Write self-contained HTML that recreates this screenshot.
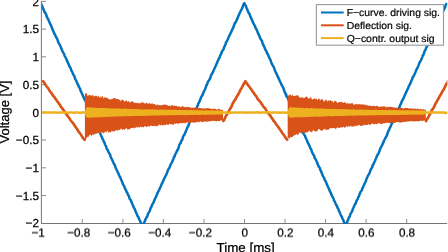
<!DOCTYPE html>
<html lang="en">
<head>
<meta charset="utf-8">
<title>F-curve signals</title>
<style>
html,body{margin:0;padding:0;background:#fff;}
body{width:448px;height:252px;overflow:hidden;}
svg{display:block;font-family:"Liberation Sans",Arial,Helvetica,sans-serif;text-rendering:geometricPrecision;}
.tick text{font-size:11.7px;fill:#000;stroke:#000;stroke-width:0.25px;}
.lbl{font-size:13px;fill:#000;stroke:#000;stroke-width:0.25px;}
.leg text{font-size:10.1px;fill:#000;stroke:#000;stroke-width:0.2px;}
</style>
</head>
<body>
<svg width="448" height="252" viewBox="0 0 448 252">
<rect width="448" height="252" fill="#fff"/>
<g class="axes">
<path d="M41.4 0.9 V223.5 H447.2" fill="none" stroke="#747474" stroke-width="1"/>
<path d="M41.4 1.4 h4.6 M41.4 29.1 h4.6 M41.4 56.8 h4.6 M41.4 84.6 h4.6 M41.4 112.3 h4.6 M41.4 140.0 h4.6 M41.4 167.8 h4.6 M41.4 195.5 h4.6 M82.3 223.5 v-4.5 M122.9 223.5 v-4.5 M163.4 223.5 v-4.5 M204.0 223.5 v-4.5 M244.5 223.5 v-4.5 M285.0 223.5 v-4.5 M325.6 223.5 v-4.5 M366.1 223.5 v-4.5 M406.7 223.5 v-4.5" fill="none" stroke="#808080" stroke-width="0.9"/>
</g>
<clipPath id="pc"><rect x="41.7" y="0" width="405.7" height="224.0"/></clipPath>
<g class="curves" clip-path="url(#pc)">
<path d="M40.7 3.0 L41.4 4.5 L42.1 5.9 L42.7 7.4 L43.2 8.8 L44.0 10.3 L44.5 11.8 L45.4 13.2 L46.2 14.7 L46.6 16.1 L47.3 17.6 L48.1 19.1 L48.7 20.5 L49.4 22.0 L49.9 23.4 L50.7 24.9 L51.5 26.4 L51.8 27.8 L52.6 29.3 L53.0 30.7 L53.8 32.2 L54.4 33.7 L55.3 35.1 L55.8 36.6 L56.7 38.0 L57.4 39.5 L58.0 41.0 L58.3 42.4 L59.2 43.9 L60.0 45.3 L60.7 46.8 L61.1 48.3 L61.9 49.7 L62.5 51.2 L63.2 52.6 L64.2 54.1 L64.5 55.6 L65.3 57.0 L66.1 58.5 L66.6 59.9 L67.3 61.4 L68.0 62.9 L68.7 64.3 L69.1 65.8 L70.0 67.2 L70.9 68.7 L71.1 70.2 L72.1 71.6 L72.7 73.1 L73.2 74.5 L74.3 76.0 L74.8 77.5 L75.1 78.9 L76.0 80.4 L76.7 81.8 L77.3 83.3 L78.1 84.8 L78.6 86.2 L79.4 87.7 L80.2 89.1 L80.5 90.6 L81.3 92.1 L81.9 93.5 L82.6 95.0 L83.1 96.4 L83.9 97.9 L84.6 99.4 L85.4 100.8 L86.1 102.3 L86.4 103.7 L87.1 105.2 L88.0 106.7 L88.3 108.1 L89.2 109.6 L89.9 111.0 L90.8 112.5 L91.4 114.0 L91.9 115.4 L92.5 116.9 L93.2 118.4 L94.2 119.8 L94.5 121.3 L95.2 122.7 L96.0 124.2 L96.6 125.7 L97.2 127.1 L97.7 128.6 L98.6 130.0 L99.2 131.5 L100.1 133.0 L100.7 134.4 L101.2 135.9 L102.0 137.3 L102.5 138.8 L103.4 140.3 L103.9 141.7 L104.7 143.2 L105.0 144.6 L106.0 146.1 L106.3 147.6 L106.9 149.0 L107.9 150.5 L108.4 151.9 L109.3 153.4 L110.3 154.9 L110.4 156.3 L111.1 157.8 L111.9 159.2 L112.6 160.7 L113.2 162.2 L113.9 163.6 L114.7 165.1 L115.3 166.5 L115.7 168.0 L116.5 169.5 L117.2 170.9 L117.7 172.4 L118.6 173.8 L119.1 175.3 L120.0 176.8 L120.6 178.2 L121.2 179.7 L121.8 181.1 L122.5 182.6 L122.9 184.1 L123.7 185.5 L124.6 187.0 L124.9 188.4 L126.0 189.9 L126.3 191.4 L127.3 192.8 L127.7 194.3 L128.7 195.7 L129.2 197.2 L129.6 198.7 L130.7 200.1 L131.4 201.6 L131.8 203.0 L132.5 204.5 L133.2 206.0 L133.7 207.4 L134.7 208.9 L135.1 210.3 L135.8 211.8 L136.4 213.3 L137.1 214.7 L137.6 216.2 L138.7 217.6 L139.1 219.1 L140.0 220.6 L140.5 222.0 L141.1 223.5 L141.8 224.9 L142.5 226.4 L143.1 224.9 L143.8 223.5 L144.4 222.0 L145.1 220.6 L145.6 219.1 L146.4 217.6 L147.4 216.2 L147.7 214.7 L148.3 213.3 L149.2 211.8 L150.0 210.3 L150.3 208.9 L151.1 207.4 L151.7 206.0 L152.2 204.5 L153.3 203.0 L153.8 201.6 L154.5 200.1 L155.0 198.7 L155.9 197.2 L156.4 195.7 L157.1 194.3 L157.6 192.8 L158.3 191.4 L159.3 189.9 L159.7 188.4 L160.5 187.0 L161.1 185.5 L161.7 184.1 L162.4 182.6 L163.2 181.1 L163.7 179.7 L164.4 178.2 L165.1 176.8 L166.0 175.3 L166.6 173.8 L167.2 172.4 L167.7 170.9 L168.2 169.5 L169.3 168.0 L169.9 166.5 L170.4 165.1 L171.2 163.6 L171.9 162.2 L172.6 160.7 L173.3 159.2 L173.7 157.8 L174.7 156.3 L174.9 154.9 L175.9 153.4 L176.5 151.9 L177.2 150.5 L178.1 149.0 L178.7 147.6 L178.9 146.1 L179.5 144.6 L180.6 143.2 L180.9 141.7 L181.8 140.3 L182.6 138.8 L182.8 137.3 L183.4 135.9 L184.5 134.4 L185.1 133.0 L185.7 131.5 L186.4 130.0 L186.9 128.6 L187.5 127.1 L188.4 125.7 L188.9 124.2 L189.5 122.7 L190.5 121.3 L191.1 119.8 L191.8 118.4 L192.2 116.9 L193.0 115.4 L193.6 114.0 L194.3 112.5 L195.1 111.0 L195.6 109.6 L196.5 108.1 L197.1 106.7 L198.0 105.2 L198.2 103.7 L199.2 102.3 L199.7 100.8 L200.4 99.4 L200.8 97.9 L201.6 96.4 L202.5 95.0 L203.0 93.5 L203.7 92.1 L204.3 90.6 L205.2 89.1 L205.7 87.7 L206.0 86.2 L206.9 84.8 L207.4 83.3 L207.9 81.8 L209.0 80.4 L209.9 78.9 L210.4 77.5 L210.8 76.0 L211.5 74.5 L212.5 73.1 L213.1 71.6 L213.7 70.2 L214.4 68.7 L215.0 67.2 L215.8 65.8 L216.4 64.3 L217.1 62.9 L217.5 61.4 L218.4 59.9 L218.9 58.5 L219.9 57.0 L220.1 55.6 L221.0 54.1 L221.7 52.6 L222.1 51.2 L223.3 49.7 L223.9 48.3 L224.3 46.8 L225.1 45.3 L225.7 43.9 L225.9 42.4 L227.0 41.0 L227.7 39.5 L228.3 38.0 L228.8 36.6 L229.6 35.1 L230.3 33.7 L231.2 32.2 L231.7 30.7 L232.3 29.3 L233.2 27.8 L233.6 26.4 L234.3 24.9 L234.7 23.4 L235.9 22.0 L236.5 20.5 L237.1 19.1 L237.8 17.6 L238.3 16.1 L239.0 14.7 L239.6 13.2 L240.3 11.8 L241.0 10.3 L241.9 8.8 L242.4 7.4 L243.0 5.9 L243.5 4.5 L244.3 3.0 L244.9 4.5 L245.9 5.9 L246.4 7.4 L247.0 8.8 L247.6 10.3 L248.1 11.8 L249.0 13.2 L249.8 14.7 L250.2 16.2 L250.9 17.6 L251.6 19.1 L252.3 20.6 L252.7 22.0 L253.6 23.5 L254.2 24.9 L255.1 26.4 L255.5 27.9 L256.4 29.3 L257.2 30.8 L257.6 32.2 L258.2 33.7 L259.0 35.2 L259.6 36.6 L260.1 38.1 L261.0 39.6 L262.0 41.0 L262.3 42.5 L262.9 44.0 L263.5 45.4 L264.3 46.9 L264.8 48.3 L265.4 49.8 L266.5 51.3 L266.8 52.7 L267.8 54.2 L268.5 55.6 L269.0 57.1 L269.7 58.6 L270.6 60.0 L270.9 61.5 L271.5 63.0 L272.1 64.4 L273.0 65.9 L273.9 67.4 L274.4 68.8 L274.8 70.3 L275.5 71.7 L276.2 73.2 L277.0 74.7 L277.6 76.1 L278.3 77.6 L279.0 79.1 L279.6 80.5 L280.3 82.0 L281.0 83.4 L281.6 84.9 L282.4 86.4 L283.3 87.8 L283.7 89.3 L284.3 90.8 L284.7 92.2 L285.7 93.7 L286.0 95.1 L286.7 96.6 L287.8 98.1 L288.4 99.5 L288.9 101.0 L289.3 102.5 L290.2 103.9 L290.8 105.4 L291.7 106.8 L292.6 108.3 L293.0 109.8 L293.5 111.2 L294.1 112.7 L294.9 114.2 L295.6 115.6 L296.1 117.1 L297.0 118.5 L297.4 120.0 L298.5 121.5 L299.1 122.9 L299.8 124.4 L300.2 125.9 L301.0 127.3 L301.6 128.8 L302.2 130.2 L302.9 131.7 L303.4 133.2 L304.0 134.6 L305.1 136.1 L305.6 137.6 L306.3 139.0 L307.1 140.5 L307.3 141.9 L308.2 143.4 L309.0 144.9 L309.7 146.3 L310.2 147.8 L311.1 149.3 L311.6 150.7 L312.1 152.2 L312.8 153.6 L313.7 155.1 L314.4 156.6 L314.6 158.0 L315.8 159.5 L316.4 161.0 L317.2 162.4 L317.5 163.9 L318.2 165.3 L318.8 166.8 L320.0 168.3 L320.2 169.7 L321.2 171.2 L321.5 172.7 L322.3 174.1 L322.7 175.6 L323.5 177.0 L324.4 178.5 L324.7 180.0 L325.8 181.4 L326.3 182.9 L326.8 184.3 L327.5 185.8 L328.2 187.3 L328.9 188.7 L329.5 190.2 L330.1 191.7 L330.9 193.1 L331.4 194.6 L332.1 196.1 L332.9 197.5 L333.7 199.0 L334.0 200.4 L334.9 201.9 L335.5 203.4 L336.1 204.8 L337.1 206.3 L337.5 207.8 L338.5 209.2 L338.8 210.7 L339.7 212.1 L340.2 213.6 L340.8 215.1 L341.7 216.5 L342.2 218.0 L343.0 219.5 L343.6 220.9 L344.1 222.4 L344.9 223.8 L345.6 225.3 L346.3 223.8 L347.1 222.4 L347.5 220.9 L348.3 219.5 L348.7 218.0 L349.7 216.5 L350.1 215.1 L350.6 213.6 L351.6 212.1 L352.4 210.7 L352.7 209.2 L353.4 207.8 L354.1 206.3 L354.7 204.8 L355.7 203.4 L356.1 201.9 L356.8 200.4 L357.7 199.0 L358.1 197.5 L359.0 196.1 L359.4 194.6 L360.1 193.1 L360.6 191.7 L361.9 190.2 L362.2 188.7 L363.0 187.3 L363.6 185.8 L364.3 184.4 L364.9 182.9 L365.9 181.4 L366.1 180.0 L366.7 178.5 L367.4 177.0 L368.0 175.6 L369.0 174.1 L369.7 172.7 L370.1 171.2 L370.7 169.7 L371.5 168.3 L372.5 166.8 L372.5 165.3 L373.7 163.9 L374.1 162.4 L375.1 160.9 L375.4 159.5 L376.2 158.0 L376.7 156.6 L377.4 155.1 L378.5 153.6 L379.1 152.2 L379.5 150.7 L380.1 149.2 L380.6 147.8 L381.5 146.3 L382.2 144.9 L382.9 143.4 L383.6 141.9 L384.1 140.5 L384.9 139.0 L385.6 137.6 L386.5 136.1 L387.2 134.6 L387.6 133.2 L388.1 131.7 L388.9 130.2 L389.5 128.8 L390.1 127.3 L390.9 125.9 L391.4 124.4 L392.3 122.9 L392.9 121.5 L393.6 120.0 L394.2 118.5 L394.8 117.1 L395.4 115.6 L396.2 114.2 L396.8 112.7 L397.6 111.2 L398.2 109.8 L398.7 108.3 L399.6 106.8 L400.0 105.4 L400.8 103.9 L401.5 102.4 L401.9 101.0 L402.9 99.5 L403.6 98.1 L404.2 96.6 L404.8 95.1 L405.5 93.7 L406.1 92.2 L406.9 90.8 L407.5 89.3 L408.3 87.8 L408.7 86.4 L409.6 84.9 L410.3 83.4 L410.9 82.0 L411.5 80.5 L412.3 79.0 L412.6 77.6 L413.7 76.1 L414.3 74.7 L415.0 73.2 L415.6 71.7 L416.1 70.3 L416.9 68.8 L417.7 67.3 L418.3 65.9 L418.9 64.4 L419.3 63.0 L420.3 61.5 L421.1 60.0 L421.7 58.6 L422.3 57.1 L422.7 55.7 L423.7 54.2 L424.2 52.7 L424.5 51.3 L425.6 49.8 L426.0 48.3 L426.7 46.9 L427.5 45.4 L428.4 44.0 L428.8 42.5 L429.6 41.0 L430.5 39.6 L431.2 38.1 L431.6 36.6 L432.2 35.2 L432.7 33.7 L433.5 32.2 L434.3 30.8 L435.0 29.3 L435.6 27.9 L436.4 26.4 L436.8 24.9 L437.6 23.5 L438.4 22.0 L439.0 20.6 L439.7 19.1 L440.3 17.6 L440.9 16.2 L441.6 14.7 L442.1 13.2 L442.6 11.8 L443.7 10.3 L444.2 8.8 L445.0 7.4 L445.3 5.9 L446.2 4.5 L446.9 3.0" fill="none" stroke="#0072BD" stroke-width="2.5" stroke-linejoin="round"/>
<path d="M43.0 81.2 L44.1 82.5 L44.7 83.9 L45.8 85.2 L46.7 86.5 L47.8 87.8 L48.8 89.2 L49.4 90.5 L50.4 91.8 L51.5 93.1 L52.3 94.5 L53.1 95.8 L54.4 97.1 L55.3 98.5 L56.2 99.8 L57.0 101.1 L58.2 102.4 L59.0 103.8 L60.1 105.1 L60.7 106.4 L61.7 107.7 L62.8 109.1 L63.6 110.4 L64.7 111.7 L65.6 113.1 L66.4 114.4 L67.5 115.7 L68.4 117.0 L69.5 118.4 L70.2 119.7 L71.2 121.0 L72.3 122.3 L73.4 123.7 L74.3 125.0 L75.0 126.3 L76.0 127.7 L77.1 129.0 L77.8 130.3 L78.6 131.6 L79.7 133.0 L80.7 134.3 L81.5 135.6 L82.3 136.9 L83.3 138.3 L84.4 139.6" fill="none" stroke="#D95319" stroke-width="2.7" stroke-linejoin="round" stroke-linecap="round"/>
<path d="M223.3 121.0 L224.3 119.6 L224.9 118.2 L225.6 116.7 L226.4 115.3 L227.3 113.9 L228.1 112.5 L229.0 111.0 L229.6 109.6 L230.5 108.2 L231.4 106.8 L232.0 105.4 L232.5 103.9 L233.3 102.5 L234.1 101.1 L235.3 99.7 L235.8 98.3 L236.8 96.8 L237.5 95.4 L238.5 94.0 L239.2 92.6 L239.8 91.2 L240.6 89.7 L241.4 88.3 L242.2 86.9 L242.9 85.5 L243.7 84.0 L244.7 82.6 L245.3 81.2 L246.0 82.5 L247.2 83.9 L248.0 85.2 L249.1 86.5 L250.2 87.8 L251.0 89.2 L252.1 90.5 L252.7 91.8 L254.0 93.1 L254.7 94.5 L255.9 95.8 L256.8 97.1 L257.3 98.5 L258.5 99.8 L259.6 101.1 L260.8 102.4 L261.5 103.8 L262.5 105.1 L263.2 106.4 L264.5 107.7 L265.6 109.1 L266.3 110.4 L267.2 111.7 L267.9 113.1 L269.2 114.4 L270.4 115.7 L271.1 117.0 L272.1 118.4 L273.0 119.7 L273.7 121.0 L275.0 122.3 L275.6 123.7 L276.7 125.0 L277.7 126.3 L278.8 127.7 L279.6 129.0 L280.6 130.3 L281.4 131.6 L282.3 133.0 L283.4 134.3 L284.2 135.6 L285.1 136.9 L286.1 138.3 L287.2 139.6" fill="none" stroke="#D95319" stroke-width="2.7" stroke-linejoin="round" stroke-linecap="round"/>
<path d="M426.1 121.0 L426.7 119.6 L427.8 118.2 L428.5 116.7 L429.2 115.3 L430.2 113.9 L431.0 112.5 L431.4 111.0 L432.3 109.6 L433.4 108.2 L434.2 106.8 L434.6 105.4 L435.4 103.9 L436.2 102.5 L437.0 101.1 L437.7 99.7 L438.7 98.3 L439.3 96.8 L440.1 95.4 L441.2 94.0 L441.7 92.6 L442.6 91.2 L443.5 89.7 L444.3 88.3 L444.9 86.9 L445.7 85.5 L446.4 84.0 L447.6 82.6 L448.1 81.2 L449.1 82.5 L449.9 83.9 L451.0 85.2 L452.0 86.5 L452.9 87.8 L454.1 89.2 L455.0 90.5 L455.6 91.8 L456.7 93.1 L457.4 94.5 L458.6 95.8 L459.5 97.1 L460.9 98.5 L461.4 99.8 L462.1 101.1 L463.2 102.4 L464.3 103.8 L465.1 105.1 L466.1 106.4 L467.1 107.7 L468.1 109.1 L469.0 110.4 L469.9 111.7 L471.1 113.1 L471.8 114.4 L472.8 115.7 L473.6 117.0 L474.7 118.4 L475.8 119.7 L476.4 121.0 L477.6 122.3 L478.7 123.7 L479.5 125.0 L480.5 126.3 L481.3 127.7 L482.6 129.0 L483.5 130.3 L484.3 131.6 L485.0 133.0 L486.0 134.3 L487.3 135.6 L488.3 136.9 L489.1 138.3 L490.0 139.6" fill="none" stroke="#D95319" stroke-width="2.7" stroke-linejoin="round" stroke-linecap="round"/>
<path d="M84.9 93.0 L85.8 93.8 L86.7 93.0 L87.6 96.2 L88.5 95.2 L89.4 95.1 L90.3 95.3 L91.2 95.4 L92.1 95.7 L93.0 94.5 L93.9 96.8 L94.8 96.0 L95.7 95.7 L96.6 95.8 L97.5 97.0 L98.4 95.4 L99.3 98.1 L100.2 96.1 L101.1 98.1 L102.0 96.0 L102.9 96.4 L103.8 98.8 L104.7 96.7 L105.6 97.8 L106.5 97.7 L107.4 97.6 L108.3 98.9 L109.2 99.2 L110.1 99.3 L111.0 99.7 L111.9 98.6 L112.8 98.9 L113.7 98.1 L114.6 98.1 L115.5 98.4 L116.4 99.1 L117.3 99.0 L118.2 99.3 L119.1 99.2 L120.0 100.6 L120.9 101.1 L121.8 99.8 L122.7 99.8 L123.6 100.3 L124.5 101.7 L125.4 101.3 L126.3 100.0 L127.2 101.4 L128.1 102.1 L129.0 100.4 L129.9 102.4 L130.8 102.5 L131.7 100.7 L132.6 101.6 L133.5 102.3 L134.4 103.1 L135.3 102.7 L136.2 102.8 L137.1 103.4 L138.0 102.2 L138.9 103.5 L139.8 103.6 L140.7 102.4 L141.6 102.7 L142.5 102.6 L143.4 102.3 L144.3 103.6 L145.2 103.5 L146.1 102.8 L147.0 103.0 L147.9 104.0 L148.8 103.3 L149.7 103.1 L150.6 104.2 L151.5 103.5 L152.4 103.2 L153.3 104.2 L154.2 103.9 L155.1 104.4 L156.0 104.7 L156.9 105.4 L157.8 104.1 L158.7 105.6 L159.6 104.9 L160.5 105.6 L161.4 104.9 L162.3 105.3 L163.2 104.8 L164.1 104.5 L165.0 104.6 L165.9 105.1 L166.8 104.7 L167.7 105.4 L168.6 105.9 L169.5 105.3 L170.4 106.4 L171.3 105.2 L172.2 105.3 L173.1 105.3 L174.0 106.3 L174.9 105.6 L175.8 106.0 L176.7 105.7 L177.6 106.6 L178.5 106.6 L179.4 106.2 L180.3 107.3 L181.2 106.9 L182.1 106.1 L183.0 106.3 L183.9 107.1 L184.8 107.3 L185.7 106.6 L186.6 107.6 L187.5 106.8 L188.4 107.1 L189.3 107.3 L190.2 107.3 L191.1 107.7 L192.0 108.0 L192.9 107.3 L193.8 108.2 L194.7 107.2 L195.6 108.4 L196.5 107.3 L197.4 107.9 L198.3 108.5 L199.2 107.6 L200.1 107.9 L201.0 108.3 L201.9 108.3 L202.8 108.6 L203.7 108.5 L204.6 108.3 L205.5 108.4 L206.4 108.4 L207.3 108.1 L208.2 108.1 L209.1 108.5 L210.0 108.5 L210.9 108.4 L211.8 109.3 L212.7 108.8 L213.6 108.7 L214.5 108.7 L215.4 108.8 L216.3 109.5 L217.2 109.4 L218.1 109.0 L219.0 108.8 L219.9 109.4 L220.8 109.5 L221.7 109.9 L222.6 109.7 L223.0 109.7 L223.0 120.9 L222.6 120.9 L221.7 120.3 L220.8 120.3 L219.9 121.1 L219.0 121.1 L218.1 121.0 L217.2 120.9 L216.3 121.4 L215.4 120.9 L214.5 120.9 L213.6 120.8 L212.7 120.8 L211.8 121.2 L210.9 120.9 L210.0 121.2 L209.1 121.4 L208.2 121.4 L207.3 121.8 L206.4 121.4 L205.5 122.0 L204.6 121.1 L203.7 122.0 L202.8 122.2 L201.9 122.1 L201.0 121.6 L200.1 121.6 L199.2 122.4 L198.3 121.5 L197.4 122.2 L196.5 122.2 L195.6 122.2 L194.7 122.8 L193.8 122.4 L192.9 122.7 L192.0 122.0 L191.1 122.6 L190.2 123.0 L189.3 123.2 L188.4 123.0 L187.5 122.3 L186.6 122.2 L185.7 123.5 L184.8 123.1 L183.9 122.7 L183.0 123.6 L182.1 122.7 L181.2 123.3 L180.3 122.9 L179.4 123.3 L178.5 124.0 L177.6 123.5 L176.7 123.2 L175.8 124.0 L174.9 123.2 L174.0 124.4 L173.1 124.5 L172.2 124.4 L171.3 124.4 L170.4 124.0 L169.5 123.5 L168.6 125.0 L167.7 124.9 L166.8 123.8 L165.9 125.2 L165.0 125.1 L164.1 124.7 L163.2 125.5 L162.3 125.2 L161.4 124.8 L160.5 125.8 L159.6 124.3 L158.7 125.6 L157.8 125.8 L156.9 125.9 L156.0 126.2 L155.1 126.2 L154.2 125.5 L153.3 126.2 L152.4 126.1 L151.5 125.7 L150.6 125.6 L149.7 126.8 L148.8 126.0 L147.9 126.6 L147.0 126.8 L146.1 127.0 L145.2 126.1 L144.3 126.6 L143.4 127.6 L142.5 127.1 L141.6 127.2 L140.7 126.6 L139.8 127.5 L138.9 127.6 L138.0 126.5 L137.1 128.1 L136.2 126.8 L135.3 128.0 L134.4 128.6 L133.5 127.6 L132.6 128.0 L131.7 128.1 L130.8 128.1 L129.9 129.4 L129.0 129.0 L128.1 129.5 L127.2 129.6 L126.3 127.8 L125.4 129.1 L124.5 129.9 L123.6 129.1 L122.7 130.2 L121.8 129.0 L120.9 128.6 L120.0 130.0 L119.1 130.2 L118.2 129.4 L117.3 131.2 L116.4 130.1 L115.5 130.5 L114.6 131.3 L113.7 131.3 L112.8 131.7 L111.9 130.6 L111.0 132.0 L110.1 132.4 L109.2 131.9 L108.3 132.5 L107.4 130.3 L106.5 132.7 L105.6 131.3 L104.7 132.2 L103.8 133.4 L102.9 132.5 L102.0 133.1 L101.1 131.5 L100.2 133.8 L99.3 134.2 L98.4 132.3 L97.5 133.3 L96.6 133.5 L95.7 134.5 L94.8 133.3 L93.9 135.4 L93.0 134.2 L92.1 134.9 L91.2 136.1 L90.3 134.5 L89.4 135.1 L88.5 137.1 L87.6 136.8 L86.7 137.6 L85.8 140.1 L84.9 141.6Z" fill="#D95319" stroke="none"/>
<path d="M287.7 93.0 L288.6 96.0 L289.5 94.9 L290.4 94.1 L291.3 96.3 L292.2 94.5 L293.1 95.7 L294.0 96.3 L294.9 95.9 L295.8 95.4 L296.7 95.4 L297.6 94.9 L298.5 95.9 L299.4 97.2 L300.3 97.9 L301.2 97.0 L302.1 97.7 L303.0 97.6 L303.9 98.1 L304.8 97.7 L305.7 96.8 L306.6 96.5 L307.5 97.2 L308.4 98.8 L309.3 98.4 L310.2 97.3 L311.1 97.2 L312.0 99.7 L312.9 99.2 L313.8 98.6 L314.7 98.6 L315.6 98.9 L316.5 98.5 L317.4 100.6 L318.3 98.6 L319.2 98.6 L320.1 100.6 L321.0 99.5 L321.9 98.9 L322.8 99.6 L323.7 101.2 L324.6 101.6 L325.5 99.5 L326.4 99.7 L327.3 101.8 L328.2 100.0 L329.1 101.2 L330.0 100.0 L330.9 100.5 L331.8 101.2 L332.7 101.2 L333.6 102.7 L334.5 100.7 L335.4 101.1 L336.3 101.2 L337.2 103.0 L338.1 102.8 L339.0 101.7 L339.9 102.1 L340.8 102.2 L341.7 101.7 L342.6 102.5 L343.5 103.0 L344.4 102.0 L345.3 102.5 L346.2 103.5 L347.1 103.5 L348.0 102.8 L348.9 104.2 L349.8 103.1 L350.7 103.8 L351.6 103.3 L352.5 102.9 L353.4 104.5 L354.3 104.9 L355.2 103.7 L356.1 104.4 L357.0 104.0 L357.9 104.6 L358.8 103.8 L359.7 104.4 L360.6 104.6 L361.5 104.2 L362.4 104.2 L363.3 104.7 L364.2 104.7 L365.1 104.3 L366.0 105.6 L366.9 105.0 L367.8 105.3 L368.7 105.9 L369.6 105.1 L370.5 106.2 L371.4 105.8 L372.3 106.2 L373.2 105.7 L374.1 105.7 L375.0 105.9 L375.9 106.4 L376.8 105.5 L377.7 105.9 L378.6 106.9 L379.5 107.0 L380.4 106.6 L381.3 106.2 L382.2 107.0 L383.1 106.0 L384.0 106.4 L384.9 106.1 L385.8 107.4 L386.7 107.0 L387.6 106.6 L388.5 107.4 L389.4 106.6 L390.3 107.0 L391.2 106.7 L392.1 107.2 L393.0 107.2 L393.9 107.3 L394.8 107.5 L395.7 107.9 L396.6 107.6 L397.5 108.0 L398.4 108.1 L399.3 108.1 L400.2 108.1 L401.1 107.6 L402.0 107.9 L402.9 108.2 L403.8 108.4 L404.7 108.3 L405.6 107.8 L406.5 108.0 L407.4 108.0 L408.3 108.2 L409.2 108.5 L410.1 108.2 L411.0 108.8 L411.9 108.2 L412.8 108.8 L413.7 108.7 L414.6 108.8 L415.5 108.6 L416.4 109.2 L417.3 108.5 L418.2 108.7 L419.1 109.6 L420.0 109.1 L420.9 108.8 L421.8 109.7 L422.7 109.2 L423.6 109.0 L424.5 109.7 L425.4 109.6 L425.8 109.6 L425.8 121.0 L425.4 121.0 L424.5 120.4 L423.6 120.6 L422.7 120.9 L421.8 121.1 L420.9 120.5 L420.0 121.1 L419.1 121.2 L418.2 121.4 L417.3 121.1 L416.4 121.2 L415.5 121.3 L414.6 121.5 L413.7 121.3 L412.8 121.6 L411.9 120.9 L411.0 121.2 L410.1 121.3 L409.2 121.4 L408.3 121.4 L407.4 121.6 L406.5 121.8 L405.6 122.1 L404.7 121.4 L403.8 122.3 L402.9 121.7 L402.0 122.5 L401.1 122.5 L400.2 122.4 L399.3 122.6 L398.4 122.1 L397.5 121.9 L396.6 122.1 L395.7 122.4 L394.8 122.9 L393.9 122.4 L393.0 122.8 L392.1 123.0 L391.2 122.9 L390.3 123.0 L389.4 123.2 L388.5 122.9 L387.6 122.5 L386.7 123.0 L385.8 122.7 L384.9 123.6 L384.0 123.0 L383.1 123.6 L382.2 123.7 L381.3 124.1 L380.4 123.9 L379.5 123.3 L378.6 123.1 L377.7 123.9 L376.8 124.3 L375.9 123.5 L375.0 124.3 L374.1 124.5 L373.2 123.7 L372.3 123.7 L371.4 123.8 L370.5 124.7 L369.6 125.1 L368.7 124.1 L367.8 125.1 L366.9 125.1 L366.0 124.8 L365.1 125.5 L364.2 124.5 L363.3 125.4 L362.4 125.6 L361.5 125.9 L360.6 126.0 L359.7 125.1 L358.8 124.7 L357.9 125.7 L357.0 125.5 L356.1 126.5 L355.2 125.3 L354.3 126.7 L353.4 125.9 L352.5 126.8 L351.6 126.8 L350.7 125.6 L349.8 126.7 L348.9 126.4 L348.0 126.1 L347.1 127.5 L346.2 125.8 L345.3 127.4 L344.4 127.7 L343.5 126.7 L342.6 126.9 L341.7 127.8 L340.8 126.9 L339.9 128.0 L339.0 127.9 L338.1 127.4 L337.2 127.4 L336.3 128.5 L335.4 128.9 L334.5 128.3 L333.6 127.7 L332.7 128.1 L331.8 128.5 L330.9 128.0 L330.0 128.3 L329.1 129.0 L328.2 129.9 L327.3 129.6 L326.4 130.2 L325.5 129.3 L324.6 129.0 L323.7 129.6 L322.8 130.0 L321.9 130.8 L321.0 130.8 L320.1 129.8 L319.2 129.1 L318.3 129.2 L317.4 131.0 L316.5 131.2 L315.6 131.6 L314.7 131.4 L313.8 130.3 L312.9 130.2 L312.0 132.4 L311.1 131.8 L310.2 131.7 L309.3 130.4 L308.4 131.5 L307.5 132.4 L306.6 132.3 L305.7 132.9 L304.8 132.5 L303.9 133.3 L303.0 132.3 L302.1 132.4 L301.2 134.1 L300.3 132.4 L299.4 132.6 L298.5 134.6 L297.6 135.2 L296.7 133.5 L295.8 135.5 L294.9 134.3 L294.0 136.0 L293.1 135.7 L292.2 137.4 L291.3 137.2 L290.4 136.7 L289.5 138.9 L288.6 137.8 L287.7 138.3Z" fill="#D95319" stroke="none"/>
<path d="M490.5 93.0 L491.4 95.1 L492.3 94.9 L493.2 94.9 L494.1 95.4 L495.0 94.1 L495.9 93.9 L496.8 95.7 L497.7 95.0 L498.6 94.6 L499.5 96.0 L500.4 94.6 L501.3 97.7 L502.2 96.9 L503.1 96.9 L504.0 96.9 L504.9 95.6 L505.8 95.6 L506.7 97.9 L507.6 97.9 L508.5 96.3 L509.4 98.0 L510.3 97.6 L511.2 98.2 L512.1 96.8 L513.0 99.1 L513.9 99.2 L514.8 98.5 L515.7 99.2 L516.6 98.6 L517.5 99.2 L518.4 97.8 L519.3 98.2 L520.2 99.8 L521.1 99.2 L522.0 99.3 L522.9 99.6 L523.8 99.4 L524.7 100.2 L525.6 99.6 L526.5 100.6 L527.4 100.4 L528.3 101.0 L529.2 100.4 L530.1 101.2 L531.0 100.3 L531.9 100.6 L532.8 102.0 L533.7 101.9 L534.6 101.8 L535.5 102.5 L536.4 100.7 L537.3 101.7 L538.2 100.9 L539.1 101.5 L540.0 102.5 L540.9 101.7 L541.8 101.3 L542.7 102.9 L543.6 102.1 L544.5 102.0 L545.4 103.5 L546.3 103.5 L547.2 103.2 L548.1 103.0 L549.0 102.7 L549.9 104.0 L550.8 103.8 L551.7 102.7 L552.6 103.5 L553.5 103.0 L554.4 103.3 L555.3 102.9 L556.2 104.0 L557.1 103.5 L558.0 105.0 L558.9 103.5 L559.8 104.1 L560.7 104.2 L561.6 105.1 L562.5 103.8 L563.4 105.5 L564.3 104.2 L565.2 105.1 L566.1 104.6 L567.0 104.6 L567.9 104.6 L568.8 104.4 L569.7 105.7 L570.6 105.4 L571.5 105.6 L572.4 105.8 L573.3 106.3 L574.2 105.7 L575.1 105.3 L576.0 106.0 L576.9 105.5 L577.8 105.3 L578.7 105.4 L579.6 106.5 L580.5 105.9 L581.4 106.8 L582.3 106.0 L583.2 106.6 L584.1 107.2 L585.0 106.7 L585.9 106.9 L586.8 106.1 L587.7 107.1 L588.6 106.5 L589.5 106.9 L590.4 107.3 L591.3 107.4 L592.2 107.1 L593.1 107.5 L594.0 106.9 L594.9 107.5 L595.8 107.8 L596.7 108.0 L597.6 108.2 L598.5 107.9 L599.4 107.5 L600.3 107.2 L601.2 107.3 L602.1 107.5 L603.0 107.7 L603.9 108.5 L604.8 108.2 L605.7 108.5 L606.6 107.7 L607.5 107.8 L608.4 108.7 L609.3 108.2 L610.2 108.7 L611.1 108.1 L612.0 109.0 L612.9 108.9 L613.8 108.4 L614.7 108.3 L615.6 108.3 L616.5 109.0 L617.4 109.0 L618.3 109.2 L619.2 109.3 L620.1 109.4 L621.0 108.6 L621.9 108.9 L622.8 108.8 L623.7 108.8 L624.6 109.5 L625.5 109.0 L626.4 109.6 L627.3 109.0 L628.2 109.9 L628.6 109.9 L628.6 120.4 L628.2 120.4 L627.3 120.9 L626.4 120.8 L625.5 120.3 L624.6 121.1 L623.7 121.2 L622.8 120.6 L621.9 121.2 L621.0 121.3 L620.1 120.7 L619.2 121.0 L618.3 121.1 L617.4 120.9 L616.5 121.4 L615.6 121.8 L614.7 121.3 L613.8 121.3 L612.9 121.5 L612.0 121.1 L611.1 121.1 L610.2 121.6 L609.3 122.1 L608.4 121.6 L607.5 122.3 L606.6 121.9 L605.7 122.2 L604.8 121.8 L603.9 122.1 L603.0 122.4 L602.1 122.2 L601.2 122.0 L600.3 122.6 L599.4 122.2 L598.5 122.7 L597.6 123.0 L596.7 122.8 L595.8 122.8 L594.9 122.9 L594.0 122.1 L593.1 122.8 L592.2 123.4 L591.3 123.4 L590.4 123.2 L589.5 123.6 L588.6 123.7 L587.7 123.1 L586.8 123.8 L585.9 123.1 L585.0 123.1 L584.1 124.1 L583.2 123.3 L582.3 123.1 L581.4 124.3 L580.5 124.2 L579.6 124.4 L578.7 124.4 L577.8 124.0 L576.9 123.3 L576.0 123.6 L575.1 123.6 L574.2 124.1 L573.3 123.8 L572.4 124.5 L571.5 124.3 L570.6 125.1 L569.7 124.9 L568.8 124.5 L567.9 124.1 L567.0 125.7 L566.1 125.5 L565.2 125.2 L564.3 125.2 L563.4 125.3 L562.5 124.7 L561.6 125.7 L560.7 124.8 L559.8 126.2 L558.9 125.3 L558.0 125.2 L557.1 125.2 L556.2 126.8 L555.3 126.2 L554.4 125.7 L553.5 127.0 L552.6 126.9 L551.7 127.1 L550.8 127.1 L549.9 127.4 L549.0 126.1 L548.1 127.0 L547.2 126.4 L546.3 126.7 L545.4 127.9 L544.5 126.4 L543.6 126.5 L542.7 126.7 L541.8 127.4 L540.9 128.6 L540.0 127.9 L539.1 126.9 L538.2 127.1 L537.3 127.7 L536.4 128.9 L535.5 127.8 L534.6 129.4 L533.7 128.6 L532.8 128.5 L531.9 127.7 L531.0 128.2 L530.1 128.6 L529.2 128.2 L528.3 129.7 L527.4 130.1 L526.5 130.1 L525.6 130.4 L524.7 130.0 L523.8 130.9 L522.9 129.9 L522.0 129.3 L521.1 131.4 L520.2 129.9 L519.3 129.7 L518.4 131.8 L517.5 131.7 L516.6 131.2 L515.7 131.7 L514.8 131.3 L513.9 131.3 L513.0 131.0 L512.1 132.8 L511.2 132.0 L510.3 130.7 L509.4 132.7 L508.5 132.4 L507.6 132.0 L506.7 133.9 L505.8 131.8 L504.9 133.2 L504.0 132.1 L503.1 134.1 L502.2 132.6 L501.3 134.3 L500.4 132.7 L499.5 132.8 L498.6 134.5 L497.7 135.2 L496.8 134.3 L495.9 136.8 L495.0 136.2 L494.1 137.7 L493.2 138.2 L492.3 137.0 L491.4 138.8 L490.5 141.2Z" fill="#D95319" stroke="none"/>
<path d="M41.8 112.6 L43.8 112.6 L45.8 112.5 L47.8 112.6 L49.8 112.4 L51.8 112.5 L53.8 112.6 L55.8 112.6 L57.8 112.7 L59.8 112.4 L61.8 112.4 L63.8 112.6 L65.8 112.6 L67.8 112.8 L69.8 112.6 L71.8 112.4 L73.8 112.7 L75.8 112.4 L77.8 112.4 L79.8 112.9 L81.8 112.6 L83.8 112.6 L85.8 112.6 L87.8 112.8 L89.8 112.6 L91.8 112.7 L93.8 112.4 L95.8 112.4 L97.8 112.7 L99.8 112.7 L101.8 112.6 L103.8 112.6 L105.8 112.6 L107.8 112.5 L109.8 112.8 L111.8 112.6 L113.8 112.6 L115.8 112.6 L117.8 112.7 L119.8 112.6 L121.8 112.6 L123.8 112.4 L125.8 112.6 L127.8 112.8 L129.8 112.5 L131.8 112.5 L133.8 112.7 L135.8 112.7 L137.8 112.6 L139.8 112.3 L141.8 112.6 L143.8 112.4 L145.8 112.4 L147.8 112.6 L149.8 112.5 L151.8 112.7 L153.8 113.0 L155.8 112.7 L157.8 112.6 L159.8 112.4 L161.8 112.5 L163.8 112.4 L165.8 112.5 L167.8 112.4 L169.8 112.5 L171.8 112.5 L173.8 112.4 L175.8 112.4 L177.8 112.4 L179.8 112.6 L181.8 112.6 L183.8 112.7 L185.8 112.7 L187.8 112.5 L189.8 112.6 L191.8 112.4 L193.8 112.8 L195.8 112.7 L197.8 112.5 L199.8 112.4 L201.8 112.6 L203.8 112.3 L205.8 112.4 L207.8 112.6 L209.8 112.6 L211.8 112.5 L213.8 112.7 L215.8 112.4 L217.8 112.6 L219.8 112.5 L221.8 112.4 L223.8 112.6 L225.8 112.4 L227.8 112.8 L229.8 112.5 L231.8 112.8 L233.8 112.4 L235.8 112.6 L237.8 112.4 L239.8 112.4 L241.8 112.6 L243.8 112.6 L245.8 112.4 L247.8 112.7 L249.8 112.4 L251.8 112.6 L253.8 112.6 L255.8 112.6 L257.8 112.3 L259.8 112.8 L261.8 112.6 L263.8 112.5 L265.8 112.4 L267.8 112.3 L269.8 112.4 L271.8 112.6 L273.8 112.5 L275.8 112.4 L277.8 112.5 L279.8 112.8 L281.8 112.5 L283.8 112.5 L285.8 112.7 L287.8 112.6 L289.8 112.6 L291.8 112.5 L293.8 112.3 L295.8 112.4 L297.8 112.5 L299.8 112.5 L301.8 112.6 L303.8 112.6 L305.8 112.6 L307.8 112.6 L309.8 112.4 L311.8 112.3 L313.8 112.5 L315.8 112.4 L317.8 112.5 L319.8 112.5 L321.8 112.4 L323.8 112.4 L325.8 112.5 L327.8 112.6 L329.8 112.5 L331.8 112.6 L333.8 112.5 L335.8 112.4 L337.8 112.6 L339.8 112.8 L341.8 112.5 L343.8 112.7 L345.8 112.7 L347.8 112.7 L349.8 112.4 L351.8 112.8 L353.8 112.6 L355.8 112.5 L357.8 112.5 L359.8 112.6 L361.8 112.6 L363.8 112.5 L365.8 112.7 L367.8 112.5 L369.8 112.4 L371.8 112.7 L373.8 112.6 L375.8 112.7 L377.8 112.4 L379.8 112.7 L381.8 112.6 L383.8 112.8 L385.8 112.4 L387.8 112.6 L389.8 112.5 L391.8 112.3 L393.8 112.5 L395.8 112.7 L397.8 112.5 L399.8 112.5 L401.8 112.7 L403.8 112.7 L405.8 112.7 L407.8 112.4 L409.8 112.5 L411.8 112.7 L413.8 112.5 L415.8 112.5 L417.8 112.7 L419.8 112.8 L421.8 112.4 L423.8 112.2 L425.8 112.4 L427.8 112.4 L429.8 112.5 L431.8 112.6 L433.8 112.5 L435.8 112.5 L437.8 112.6 L439.8 112.4 L441.8 112.5 L443.8 112.5 L445.8 112.9 L447.8 112.7" fill="none" stroke="#EDB120" stroke-width="2.5"/>
<path d="M84.9 111.4 L85.8 109.1 L86.7 107.5 L87.6 107.3 L88.5 107.4 L89.4 107.3 L90.3 107.8 L91.2 107.3 L92.1 107.4 L93.0 107.7 L93.9 107.7 L94.8 107.9 L95.7 107.7 L96.6 108.1 L97.5 108.0 L98.4 108.1 L99.3 108.0 L100.2 108.1 L101.1 107.8 L102.0 107.8 L102.9 108.3 L103.8 107.9 L104.7 107.9 L105.6 108.2 L106.5 108.0 L107.4 108.4 L108.3 108.1 L109.2 108.4 L110.1 108.5 L111.0 108.4 L111.9 108.4 L112.8 108.6 L113.7 108.7 L114.6 108.5 L115.5 108.7 L116.4 108.6 L117.3 108.6 L118.2 108.6 L119.1 108.5 L120.0 108.6 L120.9 108.7 L121.8 108.9 L122.7 109.0 L123.6 108.6 L124.5 108.6 L125.4 108.7 L126.3 108.8 L127.2 109.0 L128.1 108.8 L129.0 108.7 L129.9 109.2 L130.8 109.1 L131.7 108.9 L132.6 108.9 L133.5 108.9 L134.4 109.2 L135.3 108.9 L136.2 109.0 L137.1 109.3 L138.0 109.0 L138.9 109.4 L139.8 109.3 L140.7 109.4 L141.6 109.4 L142.5 109.4 L143.4 109.4 L144.3 109.2 L145.2 109.4 L146.1 109.5 L147.0 109.3 L147.9 109.5 L148.8 109.4 L149.7 109.5 L150.6 109.3 L151.5 109.6 L152.4 109.3 L153.3 109.5 L154.2 109.6 L155.1 109.5 L156.0 109.6 L156.9 109.7 L157.8 109.7 L158.7 109.8 L159.6 109.5 L160.5 109.6 L161.4 109.7 L162.3 109.5 L163.2 109.6 L164.1 109.9 L165.0 109.6 L165.9 109.8 L166.8 109.8 L167.7 109.8 L168.6 110.0 L169.5 109.7 L170.4 109.8 L171.3 109.7 L172.2 110.0 L173.1 109.8 L174.0 109.8 L174.9 109.8 L175.8 109.8 L176.7 109.9 L177.6 110.1 L178.5 109.9 L179.4 109.9 L180.3 110.1 L181.2 110.1 L182.1 110.2 L183.0 110.2 L183.9 110.0 L184.8 110.1 L185.7 110.0 L186.6 110.1 L187.5 110.2 L188.4 110.3 L189.3 110.1 L190.2 110.0 L191.1 110.1 L192.0 110.3 L192.9 110.2 L193.8 110.0 L194.7 110.2 L195.6 110.2 L196.5 110.3 L197.4 110.1 L198.3 110.4 L199.2 110.3 L200.1 110.4 L201.0 110.2 L201.9 110.3 L202.8 110.4 L203.7 110.2 L204.6 110.5 L205.5 110.4 L206.4 110.3 L207.3 110.4 L208.2 110.4 L209.1 110.4 L210.0 110.4 L210.9 110.4 L211.8 110.3 L212.7 110.4 L213.6 110.5 L214.5 110.4 L215.4 110.5 L216.3 110.5 L217.2 110.5 L218.1 110.4 L219.0 110.5 L219.9 110.5 L220.8 110.4 L221.7 110.4 L222.6 110.5 L222.6 114.7 L221.7 114.6 L220.8 114.6 L219.9 114.5 L219.0 114.6 L218.1 114.5 L217.2 114.5 L216.3 114.7 L215.4 114.7 L214.5 114.6 L213.6 114.6 L212.7 114.8 L211.8 114.8 L210.9 114.8 L210.0 114.8 L209.1 114.7 L208.2 114.8 L207.3 114.6 L206.4 114.8 L205.5 114.9 L204.6 114.9 L203.7 114.7 L202.8 114.8 L201.9 114.7 L201.0 114.8 L200.1 114.9 L199.2 115.0 L198.3 115.0 L197.4 114.9 L196.5 114.8 L195.6 114.8 L194.7 115.0 L193.8 115.0 L192.9 114.9 L192.0 114.9 L191.1 115.1 L190.2 114.8 L189.3 115.0 L188.4 114.9 L187.5 115.1 L186.6 115.0 L185.7 114.9 L184.8 115.2 L183.9 115.2 L183.0 115.0 L182.1 115.0 L181.2 115.0 L180.3 115.2 L179.4 115.0 L178.5 115.3 L177.6 115.0 L176.7 115.0 L175.8 115.1 L174.9 115.3 L174.0 115.1 L173.1 115.2 L172.2 115.3 L171.3 115.2 L170.4 115.1 L169.5 115.3 L168.6 115.2 L167.7 115.3 L166.8 115.4 L165.9 115.5 L165.0 115.2 L164.1 115.4 L163.2 115.2 L162.3 115.3 L161.4 115.4 L160.5 115.3 L159.6 115.3 L158.7 115.6 L157.8 115.5 L156.9 115.5 L156.0 115.4 L155.1 115.6 L154.2 115.4 L153.3 115.6 L152.4 115.6 L151.5 115.6 L150.6 115.7 L149.7 115.7 L148.8 115.6 L147.9 115.7 L147.0 115.8 L146.1 115.9 L145.2 115.7 L144.3 115.9 L143.4 115.9 L142.5 116.0 L141.6 115.7 L140.7 115.8 L139.8 116.1 L138.9 115.9 L138.0 115.9 L137.1 115.8 L136.2 116.0 L135.3 116.0 L134.4 116.0 L133.5 116.2 L132.6 115.9 L131.7 116.0 L130.8 116.1 L129.9 116.3 L129.0 116.2 L128.1 116.2 L127.2 116.0 L126.3 116.2 L125.4 116.3 L124.5 116.3 L123.6 116.3 L122.7 116.3 L121.8 116.6 L120.9 116.2 L120.0 116.3 L119.1 116.2 L118.2 116.5 L117.3 116.3 L116.4 116.4 L115.5 116.7 L114.6 116.6 L113.7 116.5 L112.8 116.8 L111.9 116.6 L111.0 116.9 L110.1 116.8 L109.2 116.8 L108.3 116.8 L107.4 116.8 L106.5 116.7 L105.6 117.0 L104.7 117.0 L103.8 117.1 L102.9 117.3 L102.0 117.2 L101.1 116.8 L100.2 117.4 L99.3 116.9 L98.4 117.2 L97.5 117.3 L96.6 117.4 L95.7 117.3 L94.8 117.5 L93.9 117.6 L93.0 117.5 L92.1 117.6 L91.2 117.6 L90.3 117.8 L89.4 117.4 L88.5 117.8 L87.6 117.6 L86.7 117.7 L85.8 116.0 L84.9 113.9Z" fill="#EDB120" stroke="none"/>
<path d="M287.7 111.2 L288.6 109.0 L289.5 107.4 L290.4 107.1 L291.3 107.4 L292.2 107.4 L293.1 107.5 L294.0 107.4 L294.9 107.5 L295.8 107.5 L296.7 107.5 L297.6 108.0 L298.5 107.6 L299.4 107.8 L300.3 108.0 L301.2 107.9 L302.1 107.9 L303.0 107.8 L303.9 107.9 L304.8 108.2 L305.7 107.9 L306.6 108.0 L307.5 108.1 L308.4 108.3 L309.3 108.4 L310.2 108.2 L311.1 108.1 L312.0 108.1 L312.9 108.4 L313.8 108.3 L314.7 108.4 L315.6 108.2 L316.5 108.3 L317.4 108.7 L318.3 108.7 L319.2 108.4 L320.1 108.6 L321.0 108.8 L321.9 108.6 L322.8 108.4 L323.7 108.5 L324.6 108.8 L325.5 108.9 L326.4 108.7 L327.3 109.0 L328.2 108.8 L329.1 109.1 L330.0 108.7 L330.9 109.0 L331.8 109.0 L332.7 109.1 L333.6 108.8 L334.5 108.9 L335.4 108.9 L336.3 109.3 L337.2 109.0 L338.1 108.9 L339.0 109.3 L339.9 109.2 L340.8 109.3 L341.7 109.1 L342.6 109.1 L343.5 109.4 L344.4 109.2 L345.3 109.3 L346.2 109.2 L347.1 109.3 L348.0 109.5 L348.9 109.5 L349.8 109.5 L350.7 109.5 L351.6 109.5 L352.5 109.4 L353.4 109.3 L354.3 109.5 L355.2 109.6 L356.1 109.7 L357.0 109.5 L357.9 109.7 L358.8 109.5 L359.7 109.7 L360.6 109.7 L361.5 109.6 L362.4 109.6 L363.3 109.7 L364.2 109.7 L365.1 109.7 L366.0 109.9 L366.9 109.6 L367.8 109.8 L368.7 109.9 L369.6 109.9 L370.5 109.8 L371.4 109.9 L372.3 110.0 L373.2 109.9 L374.1 109.8 L375.0 109.8 L375.9 109.8 L376.8 109.8 L377.7 109.9 L378.6 109.9 L379.5 110.0 L380.4 110.0 L381.3 110.0 L382.2 109.9 L383.1 110.1 L384.0 110.2 L384.9 109.9 L385.8 110.1 L386.7 110.2 L387.6 110.1 L388.5 110.2 L389.4 110.1 L390.3 110.1 L391.2 110.2 L392.1 110.2 L393.0 110.0 L393.9 110.1 L394.8 110.1 L395.7 110.3 L396.6 110.1 L397.5 110.3 L398.4 110.3 L399.3 110.2 L400.2 110.3 L401.1 110.4 L402.0 110.3 L402.9 110.2 L403.8 110.4 L404.7 110.4 L405.6 110.2 L406.5 110.2 L407.4 110.3 L408.3 110.4 L409.2 110.2 L410.1 110.4 L411.0 110.5 L411.9 110.3 L412.8 110.3 L413.7 110.3 L414.6 110.4 L415.5 110.4 L416.4 110.5 L417.3 110.5 L418.2 110.5 L419.1 110.5 L420.0 110.5 L420.9 110.5 L421.8 110.5 L422.7 110.6 L423.6 110.4 L424.5 110.4 L425.4 110.4 L425.4 114.7 L424.5 114.5 L423.6 114.7 L422.7 114.8 L421.8 114.7 L420.9 114.6 L420.0 114.5 L419.1 114.7 L418.2 114.7 L417.3 114.6 L416.4 114.6 L415.5 114.6 L414.6 114.8 L413.7 114.8 L412.8 114.7 L411.9 114.8 L411.0 114.7 L410.1 114.6 L409.2 114.8 L408.3 114.7 L407.4 114.9 L406.5 114.8 L405.6 114.7 L404.7 114.9 L403.8 114.8 L402.9 114.8 L402.0 114.8 L401.1 114.9 L400.2 114.8 L399.3 114.9 L398.4 115.0 L397.5 115.0 L396.6 114.9 L395.7 115.1 L394.8 114.9 L393.9 114.9 L393.0 114.9 L392.1 114.8 L391.2 114.9 L390.3 115.0 L389.4 115.0 L388.5 115.0 L387.6 115.0 L386.7 115.2 L385.8 115.0 L384.9 115.0 L384.0 115.1 L383.1 115.2 L382.2 115.1 L381.3 115.0 L380.4 115.2 L379.5 115.2 L378.6 115.2 L377.7 115.2 L376.8 115.1 L375.9 115.3 L375.0 115.4 L374.1 115.3 L373.2 115.1 L372.3 115.4 L371.4 115.2 L370.5 115.5 L369.6 115.2 L368.7 115.4 L367.8 115.5 L366.9 115.2 L366.0 115.2 L365.1 115.5 L364.2 115.4 L363.3 115.5 L362.4 115.4 L361.5 115.3 L360.6 115.4 L359.7 115.6 L358.8 115.5 L357.9 115.5 L357.0 115.4 L356.1 115.7 L355.2 115.8 L354.3 115.5 L353.4 115.8 L352.5 115.7 L351.6 115.5 L350.7 115.5 L349.8 115.6 L348.9 115.9 L348.0 115.8 L347.1 115.7 L346.2 115.6 L345.3 115.9 L344.4 115.8 L343.5 115.7 L342.6 116.0 L341.7 116.0 L340.8 116.0 L339.9 115.9 L339.0 116.1 L338.1 115.8 L337.2 115.9 L336.3 116.3 L335.4 116.1 L334.5 115.9 L333.6 116.3 L332.7 116.2 L331.8 116.3 L330.9 116.3 L330.0 116.0 L329.1 116.3 L328.2 116.1 L327.3 116.2 L326.4 116.2 L325.5 116.2 L324.6 116.4 L323.7 116.2 L322.8 116.4 L321.9 116.6 L321.0 116.7 L320.1 116.7 L319.2 116.8 L318.3 116.4 L317.4 116.4 L316.5 116.7 L315.6 116.5 L314.7 116.6 L313.8 116.5 L312.9 116.7 L312.0 116.9 L311.1 116.6 L310.2 116.9 L309.3 116.9 L308.4 116.7 L307.5 116.9 L306.6 117.1 L305.7 117.0 L304.8 117.3 L303.9 117.2 L303.0 117.2 L302.1 117.2 L301.2 117.2 L300.3 117.2 L299.4 117.3 L298.5 117.2 L297.6 117.5 L296.7 117.2 L295.8 117.2 L294.9 117.3 L294.0 117.3 L293.1 117.4 L292.2 117.9 L291.3 117.3 L290.4 117.8 L289.5 117.5 L288.6 116.2 L287.7 113.8Z" fill="#EDB120" stroke="none"/>
<path d="M490.5 111.2 L491.4 108.9 L492.3 107.3 L493.2 107.1 L494.1 107.7 L495.0 107.7 L495.9 107.4 L496.8 107.9 L497.7 107.6 L498.6 108.0 L499.5 107.6 L500.4 107.7 L501.3 107.8 L502.2 107.6 L503.1 108.0 L504.0 107.7 L504.9 108.0 L505.8 108.0 L506.7 108.1 L507.6 108.3 L508.5 108.0 L509.4 108.3 L510.3 108.4 L511.2 108.1 L512.1 108.4 L513.0 108.2 L513.9 108.2 L514.8 108.4 L515.7 108.2 L516.6 108.2 L517.5 108.2 L518.4 108.3 L519.3 108.5 L520.2 108.5 L521.1 108.6 L522.0 108.7 L522.9 108.8 L523.8 108.7 L524.7 108.6 L525.6 108.8 L526.5 108.6 L527.4 108.8 L528.3 108.9 L529.2 109.0 L530.1 109.0 L531.0 108.8 L531.9 109.0 L532.8 108.7 L533.7 109.0 L534.6 109.1 L535.5 108.8 L536.4 109.1 L537.3 109.0 L538.2 109.1 L539.1 109.2 L540.0 109.2 L540.9 108.9 L541.8 109.3 L542.7 109.3 L543.6 109.2 L544.5 109.1 L545.4 109.1 L546.3 109.2 L547.2 109.2 L548.1 109.3 L549.0 109.3 L549.9 109.4 L550.8 109.3 L551.7 109.5 L552.6 109.2 L553.5 109.5 L554.4 109.5 L555.3 109.6 L556.2 109.4 L557.1 109.4 L558.0 109.4 L558.9 109.6 L559.8 109.7 L560.7 109.7 L561.6 109.4 L562.5 109.8 L563.4 109.8 L564.3 109.8 L565.2 109.7 L566.1 109.7 L567.0 109.7 L567.9 109.7 L568.8 109.5 L569.7 109.8 L570.6 109.6 L571.5 109.8 L572.4 109.9 L573.3 110.0 L574.2 109.8 L575.1 110.0 L576.0 109.9 L576.9 110.0 L577.8 109.8 L578.7 110.0 L579.6 109.9 L580.5 109.8 L581.4 110.0 L582.3 110.1 L583.2 109.8 L584.1 109.9 L585.0 110.0 L585.9 110.1 L586.8 110.0 L587.7 110.1 L588.6 110.1 L589.5 110.0 L590.4 110.0 L591.3 110.0 L592.2 110.1 L593.1 110.0 L594.0 110.2 L594.9 110.1 L595.8 110.2 L596.7 110.2 L597.6 110.0 L598.5 110.3 L599.4 110.3 L600.3 110.1 L601.2 110.2 L602.1 110.3 L603.0 110.4 L603.9 110.2 L604.8 110.3 L605.7 110.4 L606.6 110.1 L607.5 110.3 L608.4 110.3 L609.3 110.3 L610.2 110.2 L611.1 110.3 L612.0 110.3 L612.9 110.2 L613.8 110.3 L614.7 110.4 L615.6 110.4 L616.5 110.3 L617.4 110.3 L618.3 110.4 L619.2 110.4 L620.1 110.4 L621.0 110.4 L621.9 110.3 L622.8 110.4 L623.7 110.5 L624.6 110.5 L625.5 110.4 L626.4 110.4 L627.3 110.5 L628.2 110.6 L628.2 114.5 L627.3 114.7 L626.4 114.5 L625.5 114.7 L624.6 114.7 L623.7 114.6 L622.8 114.8 L621.9 114.6 L621.0 114.8 L620.1 114.6 L619.2 114.7 L618.3 114.6 L617.4 114.6 L616.5 114.6 L615.6 114.9 L614.7 114.7 L613.8 114.8 L612.9 114.8 L612.0 114.8 L611.1 114.6 L610.2 114.6 L609.3 114.9 L608.4 114.8 L607.5 114.7 L606.6 114.9 L605.7 115.0 L604.8 114.9 L603.9 114.9 L603.0 114.9 L602.1 115.0 L601.2 114.9 L600.3 114.8 L599.4 115.0 L598.5 114.9 L597.6 115.0 L596.7 114.8 L595.8 114.9 L594.9 114.8 L594.0 115.0 L593.1 115.1 L592.2 115.1 L591.3 115.0 L590.4 115.0 L589.5 115.2 L588.6 114.9 L587.7 115.0 L586.8 115.0 L585.9 115.0 L585.0 115.1 L584.1 115.1 L583.2 115.1 L582.3 115.1 L581.4 115.1 L580.5 115.1 L579.6 115.3 L578.7 115.2 L577.8 115.3 L576.9 115.4 L576.0 115.3 L575.1 115.4 L574.2 115.4 L573.3 115.2 L572.4 115.2 L571.5 115.3 L570.6 115.4 L569.7 115.5 L568.8 115.5 L567.9 115.5 L567.0 115.4 L566.1 115.5 L565.2 115.5 L564.3 115.3 L563.4 115.7 L562.5 115.5 L561.6 115.4 L560.7 115.7 L559.8 115.5 L558.9 115.6 L558.0 115.5 L557.1 115.5 L556.2 115.6 L555.3 115.8 L554.4 115.6 L553.5 115.7 L552.6 115.5 L551.7 115.9 L550.8 115.6 L549.9 115.9 L549.0 115.7 L548.1 115.7 L547.2 115.9 L546.3 116.1 L545.4 115.9 L544.5 115.9 L543.6 116.0 L542.7 115.9 L541.8 115.9 L540.9 115.8 L540.0 116.1 L539.1 116.0 L538.2 116.1 L537.3 116.2 L536.4 116.2 L535.5 116.4 L534.6 116.2 L533.7 116.4 L532.8 116.1 L531.9 116.1 L531.0 116.4 L530.1 116.4 L529.2 116.1 L528.3 116.4 L527.4 116.3 L526.5 116.2 L525.6 116.3 L524.7 116.4 L523.8 116.7 L522.9 116.5 L522.0 116.7 L521.1 116.4 L520.2 116.6 L519.3 116.8 L518.4 116.7 L517.5 116.5 L516.6 116.7 L515.7 116.9 L514.8 116.9 L513.9 116.8 L513.0 116.6 L512.1 116.6 L511.2 117.1 L510.3 117.0 L509.4 116.8 L508.5 117.1 L507.6 116.8 L506.7 116.8 L505.8 117.3 L504.9 116.9 L504.0 117.3 L503.1 117.0 L502.2 117.1 L501.3 117.4 L500.4 117.4 L499.5 117.3 L498.6 117.1 L497.7 117.3 L496.8 117.2 L495.9 117.6 L495.0 117.4 L494.1 117.4 L493.2 117.8 L492.3 117.9 L491.4 116.1 L490.5 113.8Z" fill="#EDB120" stroke="none"/>
</g>
<g class="tick">
<text x="38.9" y="5.5" text-anchor="end">2</text>
<text x="38.9" y="33.3" text-anchor="end">1.5</text>
<text x="38.9" y="61.0" text-anchor="end">1</text>
<text x="38.9" y="88.7" text-anchor="end">0.5</text>
<text x="38.9" y="116.5" text-anchor="end">0</text>
<text x="38.9" y="144.2" text-anchor="end">−0.5</text>
<text x="38.9" y="171.9" text-anchor="end">−1</text>
<text x="38.9" y="199.6" text-anchor="end">−1.5</text>
<text x="38.9" y="227.3" text-anchor="end">−2</text>
</g>
<filter id="sh" filterUnits="userSpaceOnUse" x="0" y="222" width="448" height="22"><feConvolveMatrix order="1 2" kernelMatrix="0.4 0.6" targetX="0" targetY="1" edgeMode="none"/></filter>
<g class="tick" filter="url(#sh)">
<text x="38.2" y="236" text-anchor="middle">−1</text>
<text x="78.7" y="236" text-anchor="middle">−0.8</text>
<text x="119.3" y="236" text-anchor="middle">−0.6</text>
<text x="159.8" y="236" text-anchor="middle">−0.4</text>
<text x="200.4" y="236" text-anchor="middle">−0.2</text>
<text x="244.8" y="236" text-anchor="middle">0</text>
<text x="285.3" y="236" text-anchor="middle">0.2</text>
<text x="325.9" y="236" text-anchor="middle">0.4</text>
<text x="366.4" y="236" text-anchor="middle">0.6</text>
<text x="407.0" y="236" text-anchor="middle">0.8</text>
</g>
<text class="lbl" x="245.6" y="251.7" text-anchor="middle" textLength="58.2" lengthAdjust="spacingAndGlyphs">Time [ms]</text>
<text class="lbl" transform="translate(9.3 112) rotate(-90)" text-anchor="middle" textLength="63" lengthAdjust="spacingAndGlyphs">Voltage [V]</text>
<g class="leg">
<rect x="316.4" y="4.6" width="127.1" height="40.6" fill="#fff" stroke="#999" stroke-width="1.1"/>
<path d="M321 12.5H343.7" stroke="#0072BD" stroke-width="2"/>
<path d="M321 25.3H343.7" stroke="#D95319" stroke-width="2"/>
<path d="M321 38.1H343.7" stroke="#EDB120" stroke-width="2"/>
<text x="346.7" y="16" textLength="93.3" lengthAdjust="spacingAndGlyphs">F−curve. driving sig.</text>
<text x="346.7" y="29" textLength="65.2" lengthAdjust="spacingAndGlyphs">Deflection sig.</text>
<text x="346.7" y="42" textLength="87.9" lengthAdjust="spacingAndGlyphs">Q−contr. output sig</text>
</g>
</svg>
</body>
</html>
